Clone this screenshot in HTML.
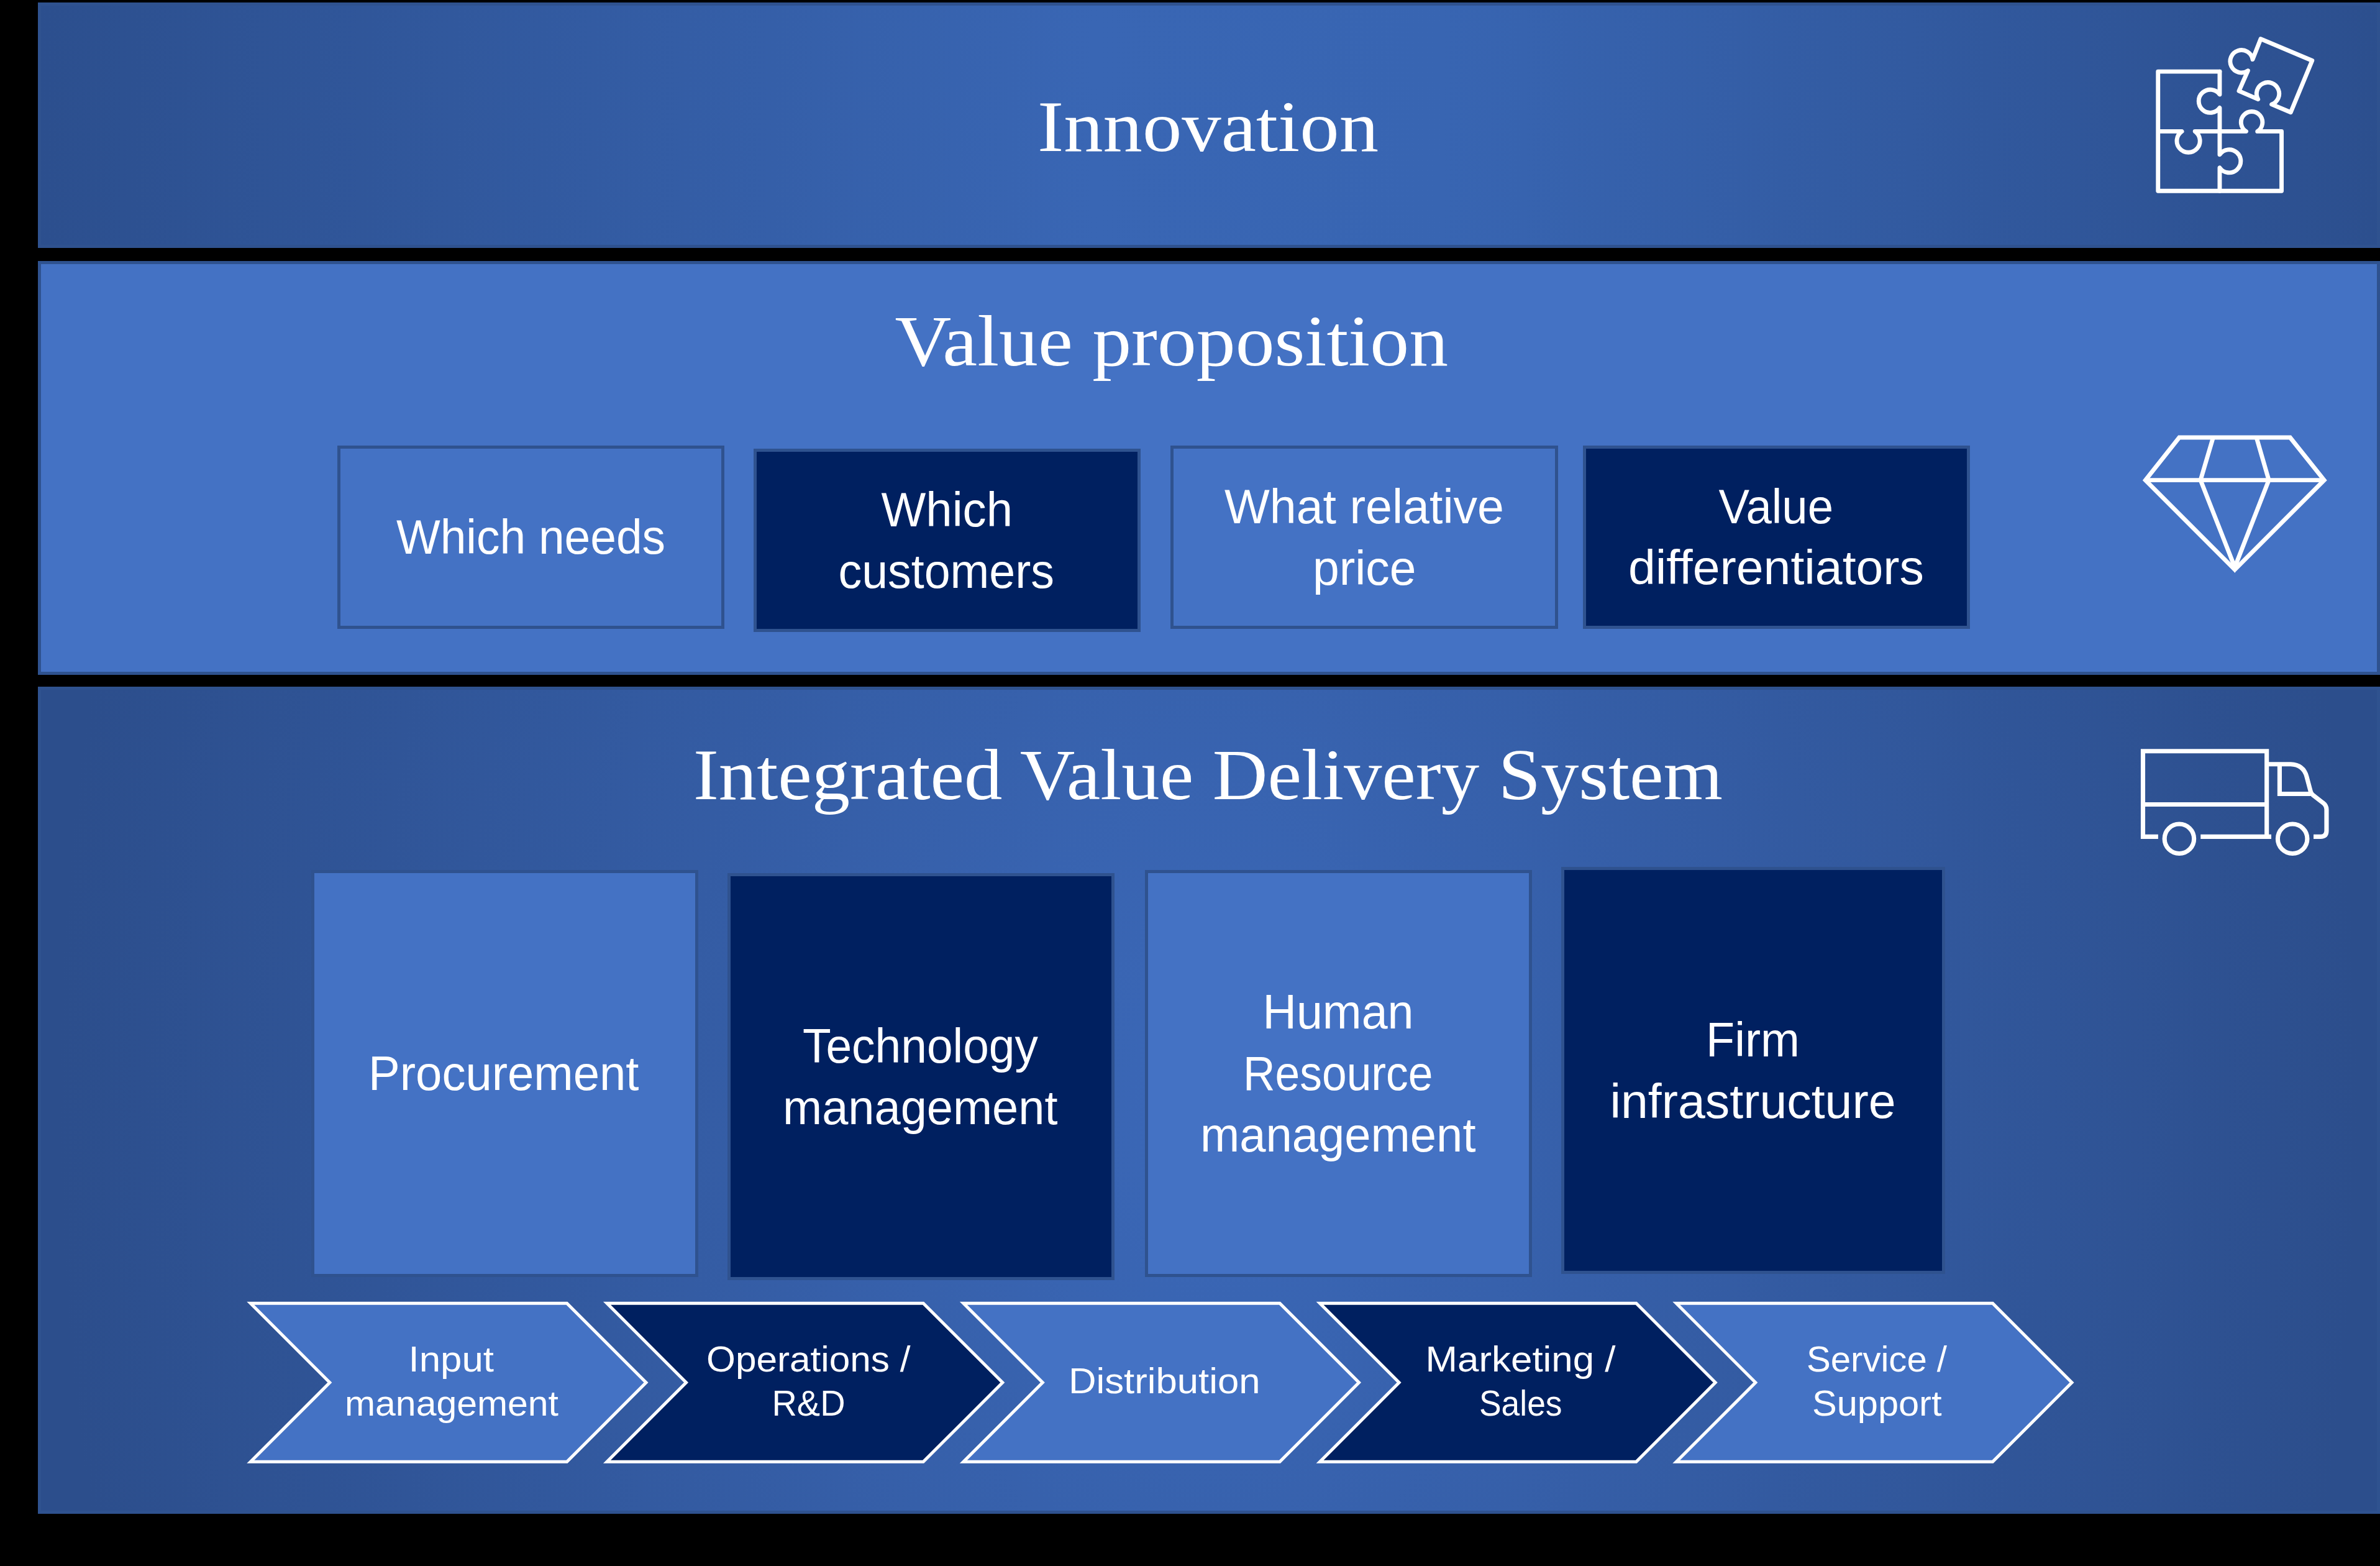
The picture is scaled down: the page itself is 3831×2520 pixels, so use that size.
<!DOCTYPE html>
<html><head><meta charset="utf-8"><style>
html,body{margin:0;padding:0;background:#000;}
body{width:3831px;height:2520px;overflow:hidden;position:relative;}
svg{position:absolute;left:0;top:0;display:block;}
text{fill:#fff;}
</style></head><body>
<svg width="3831" height="2520" viewBox="0 0 3831 2520">
<defs>
<linearGradient id="gInno" x1="0" y1="0" x2="1" y2="0">
<stop offset="0" stop-color="#2C4F8E"/><stop offset="0.45" stop-color="#3966B4"/><stop offset="0.6" stop-color="#3865B2"/><stop offset="1" stop-color="#2C4F8E"/>
</linearGradient>
<radialGradient id="gIvds" gradientUnits="userSpaceOnUse" cx="1946" cy="1770" r="1850" gradientTransform="translate(1946 1770) scale(1 1.57) translate(-1946 -1770)">
<stop offset="0" stop-color="#3B68B8"/><stop offset="1" stop-color="#2C4E8C"/>
</radialGradient>
</defs>
<rect x="0" y="0" width="3831" height="2520" fill="#000"/>
<rect x="63.5" y="6.5" width="3765" height="390" fill="url(#gInno)" stroke="#2F528F" stroke-width="5"/>
<rect x="63.5" y="422.5" width="3765" height="661" fill="#4472C4" stroke="#2F528F" stroke-width="5"/>
<rect x="63.5" y="1107.5" width="3765" height="1326" fill="url(#gIvds)" stroke="#2F528F" stroke-width="5"/>
<rect x="545.5" y="719.5" width="618" height="290" fill="#4472C4" stroke="#2F528F" stroke-width="5"/><rect x="1215.5" y="724.5" width="618" height="290" fill="#002060" stroke="#2F528F" stroke-width="5"/><rect x="1886.5" y="719.5" width="619" height="290" fill="#4472C4" stroke="#2F528F" stroke-width="5"/><rect x="2550.5" y="719.5" width="618" height="290" fill="#002060" stroke="#2F528F" stroke-width="5"/><rect x="503.5" y="1402.5" width="618" height="650" fill="#4472C4" stroke="#2F528F" stroke-width="5"/><rect x="1173.5" y="1407.5" width="618" height="650" fill="#002060" stroke="#2F528F" stroke-width="5"/><rect x="1845.5" y="1402.5" width="618" height="650" fill="#4472C4" stroke="#2F528F" stroke-width="5"/><rect x="2515.5" y="1397.5" width="613" height="650" fill="#002060" stroke="#2F528F" stroke-width="5"/>
<polygon points="403.3,2097.3 912.5,2097.3 1040.0,2224.8 912.5,2352.3 403.3,2352.3 530.8,2224.8" fill="#4472C4" stroke="#fff" stroke-width="5" stroke-linejoin="miter"/><polygon points="977.0,2097.3 1486.2,2097.3 1613.8,2224.8 1486.2,2352.3 977.0,2352.3 1104.5,2224.8" fill="#002060" stroke="#fff" stroke-width="5" stroke-linejoin="miter"/><polygon points="1550.8,2097.3 2060.0,2097.3 2187.5,2224.8 2060.0,2352.3 1550.8,2352.3 1678.3,2224.8" fill="#4472C4" stroke="#fff" stroke-width="5" stroke-linejoin="miter"/><polygon points="2124.6,2097.3 2633.8,2097.3 2761.2,2224.8 2633.8,2352.3 2124.6,2352.3 2252.1,2224.8" fill="#002060" stroke="#fff" stroke-width="5" stroke-linejoin="miter"/><polygon points="2698.3,2097.3 3207.5,2097.3 3335.0,2224.8 3207.5,2352.3 2698.3,2352.3 2825.8,2224.8" fill="#4472C4" stroke="#fff" stroke-width="5" stroke-linejoin="miter"/>
<g transform="translate(3400,40) scale(0.19153)" fill="none" stroke="#fff" stroke-width="36" stroke-linejoin="round" stroke-linecap="round">
<path d="M903,392 L385,392 L385,1395 L1423,1395 L1423,895 L1220,895 A90,90 0 1 0 1125,895 L695,895 A97,97 0 1 1 585,895 L385,895"/>
<path d="M903,392 L903,585 A97,97 0 1 0 903,697 L903,1090 A97,97 0 1 1 903,1200 L903,1395"/>
<path d="M1248,118 L1680,300 L1500,735 L1340,668 A95,95 0 1 0 1225,625 L1065,555 L1140,385 A95,95 0 1 1 1180,290 Z"/>
</g>
<g transform="translate(3400,660) scale(0.19153)" fill="none" stroke="#fff" stroke-width="36" stroke-linejoin="miter">
<path d="M563,230 L1495,230 L1781,588 L1030,1340 L279,588 Z"/>
<path d="M279,588 L1781,588"/>
<path d="M848,230 L742,588 L1030,1320 L1316,588 L1212,230"/>
</g>
<g transform="translate(3400,1160) scale(0.16600)" fill="none" stroke="#fff" stroke-width="43" stroke-linejoin="miter">
<path d="M445,1123 L298,1123 L298,294 L1498,294 L1498,1123"/>
<path d="M298,810 L1498,810"/>
<path d="M857,1123 L1542,1123"/>
<path d="M1498,420 L1730,420 Q1855,425 1885,540 L1925,690 Q1935,715 1960,730 L2040,792 Q2078,820 2078,860 L2078,1065 Q2078,1123 2020,1123 L1952,1123"/>
<path d="M1623,420 L1623,708 L1925,708"/>
<circle cx="650" cy="1143" r="143"/>
<circle cx="1748" cy="1143" r="143"/>
</g>
<text x="1670.0" y="243.0" textLength="549.0" lengthAdjust="spacingAndGlyphs" font-family="&#39;Liberation Serif&#39;, serif" font-size="117">Innovation</text>
<text x="1440.5" y="587.7" textLength="890.5" lengthAdjust="spacingAndGlyphs" font-family="&#39;Liberation Serif&#39;, serif" font-size="117">Value proposition</text>
<text x="1116.0" y="1285.7" textLength="1657.0" lengthAdjust="spacingAndGlyphs" font-family="&#39;Liberation Serif&#39;, serif" font-size="117">Integrated Value Delivery System</text>
<text x="638.0" y="891.2" textLength="433.0" lengthAdjust="spacingAndGlyphs" font-family="&#39;Liberation Sans&#39;, sans-serif" font-size="77">Which needs</text>
<text x="1418.5" y="847.0" textLength="211.5" lengthAdjust="spacingAndGlyphs" font-family="&#39;Liberation Sans&#39;, sans-serif" font-size="77">Which</text>
<text x="1349.5" y="946.2" textLength="347.5" lengthAdjust="spacingAndGlyphs" font-family="&#39;Liberation Sans&#39;, sans-serif" font-size="77">customers</text>
<text x="1971.0" y="842.0" textLength="450.0" lengthAdjust="spacingAndGlyphs" font-family="&#39;Liberation Sans&#39;, sans-serif" font-size="77">What relative</text>
<text x="2113.0" y="940.9" textLength="166.5" lengthAdjust="spacingAndGlyphs" font-family="&#39;Liberation Sans&#39;, sans-serif" font-size="77">price</text>
<text x="2766.5" y="841.7" textLength="184.5" lengthAdjust="spacingAndGlyphs" font-family="&#39;Liberation Sans&#39;, sans-serif" font-size="77">Value</text>
<text x="2621.0" y="940.4" textLength="476.0" lengthAdjust="spacingAndGlyphs" font-family="&#39;Liberation Sans&#39;, sans-serif" font-size="77">differentiators</text>
<text x="593.0" y="1754.1" textLength="435.5" lengthAdjust="spacingAndGlyphs" font-family="&#39;Liberation Sans&#39;, sans-serif" font-size="77">Procurement</text>
<text x="1292.0" y="1710.1" textLength="379.0" lengthAdjust="spacingAndGlyphs" font-family="&#39;Liberation Sans&#39;, sans-serif" font-size="77">Technology</text>
<text x="1260.0" y="1808.9" textLength="442.5" lengthAdjust="spacingAndGlyphs" font-family="&#39;Liberation Sans&#39;, sans-serif" font-size="77">management</text>
<text x="2032.5" y="1655.1" textLength="243.0" lengthAdjust="spacingAndGlyphs" font-family="&#39;Liberation Sans&#39;, sans-serif" font-size="77">Human</text>
<text x="2001.0" y="1754.0" textLength="305.5" lengthAdjust="spacingAndGlyphs" font-family="&#39;Liberation Sans&#39;, sans-serif" font-size="77">Resource</text>
<text x="1932.0" y="1853.2" textLength="443.5" lengthAdjust="spacingAndGlyphs" font-family="&#39;Liberation Sans&#39;, sans-serif" font-size="77">management</text>
<text x="2746.0" y="1699.8" textLength="151.0" lengthAdjust="spacingAndGlyphs" font-family="&#39;Liberation Sans&#39;, sans-serif" font-size="77">Firm</text>
<text x="2591.5" y="1799.0" textLength="460.0" lengthAdjust="spacingAndGlyphs" font-family="&#39;Liberation Sans&#39;, sans-serif" font-size="77">infrastructure</text>
<text x="657.5" y="2206.7" textLength="137.5" lengthAdjust="spacingAndGlyphs" font-family="&#39;Liberation Sans&#39;, sans-serif" font-size="58">Input</text>
<text x="555.0" y="2277.7" textLength="344.0" lengthAdjust="spacingAndGlyphs" font-family="&#39;Liberation Sans&#39;, sans-serif" font-size="58">management</text>
<text x="1137.0" y="2207.0" textLength="328.5" lengthAdjust="spacingAndGlyphs" font-family="&#39;Liberation Sans&#39;, sans-serif" font-size="58">Operations /</text>
<text x="1242.5" y="2277.7" textLength="118.0" lengthAdjust="spacingAndGlyphs" font-family="&#39;Liberation Sans&#39;, sans-serif" font-size="58">R&amp;D</text>
<text x="1720.0" y="2241.7" textLength="308.5" lengthAdjust="spacingAndGlyphs" font-family="&#39;Liberation Sans&#39;, sans-serif" font-size="58">Distribution</text>
<text x="2294.5" y="2207.0" textLength="306.0" lengthAdjust="spacingAndGlyphs" font-family="&#39;Liberation Sans&#39;, sans-serif" font-size="58">Marketing /</text>
<text x="2381.0" y="2277.7" textLength="133.5" lengthAdjust="spacingAndGlyphs" font-family="&#39;Liberation Sans&#39;, sans-serif" font-size="58">Sales</text>
<text x="2908.0" y="2207.1" textLength="226.0" lengthAdjust="spacingAndGlyphs" font-family="&#39;Liberation Sans&#39;, sans-serif" font-size="58">Service /</text>
<text x="2917.0" y="2278.0" textLength="208.5" lengthAdjust="spacingAndGlyphs" font-family="&#39;Liberation Sans&#39;, sans-serif" font-size="58">Support</text>
</svg>
</body></html>
